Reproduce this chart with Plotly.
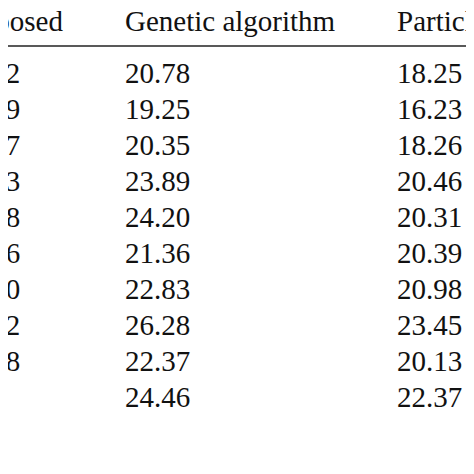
import plotly.graph_objects as go

# table contents (left and right columns are cut off in the picture)
headers = ['Proposed', 'Genetic algorithm', 'Particle swarm']
proposed = ['19.62', '17.69', '19.87', '21.23', '21.98', '19.26', '20.90', '23.92', '19.78', '21.5']
genetic = ['20.78', '19.25', '20.35', '23.89', '24.20', '21.36', '22.83', '26.28', '22.37', '24.46']
particle = ['18.25', '16.23', '18.26', '20.46', '20.31', '20.39', '20.98', '23.45', '20.13', '22.37']

rows = list(range(1, len(genetic) + 1))
col_x = [-53, 117, 389]
font = dict(family='Liberation Serif, Times New Roman, serif', size=29, color='#111')

fig = go.Figure()
for x, head, col in zip(col_x, headers, [proposed, genetic, particle]):
    fig.add_trace(go.Scatter(
        x=[x] * (len(col) + 1), y=[-0.444] + rows,
        text=[head] + col, mode='text', textposition='middle right',
        textfont=font, cliponaxis=True, hoverinfo='skip', showlegend=False))

fig.add_shape(type='line', xref='paper', x0=0, x1=1, y0=0.167, y1=0.167,
              line=dict(color='#222', width=1.6))

fig.update_layout(
    width=474, height=474, margin=dict(l=0, r=0, t=0, b=0),
    plot_bgcolor='white', paper_bgcolor='white',
    xaxis=dict(range=[0, 474], visible=False, fixedrange=True),
    yaxis=dict(range=[12.28, -0.889], visible=False, fixedrange=True),
)

fig.write_html("out.html")
